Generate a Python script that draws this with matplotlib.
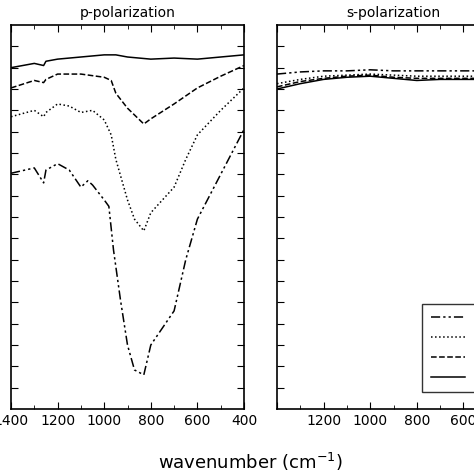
import matplotlib
matplotlib.use("Agg")
import matplotlib.pyplot as plt
import numpy as np

# p-polarization
p_solid_x = [1400, 1300, 1260, 1250, 1200, 1100, 1000, 950, 900, 800, 700, 600, 500, 400]
p_solid_y = [16.0, 16.2, 16.1, 16.3, 16.4, 16.5, 16.6, 16.6, 16.5, 16.4, 16.45, 16.4, 16.5, 16.6]
p_dash_x = [1400, 1300, 1260, 1250, 1200, 1100, 1000, 970, 950, 900, 830, 800, 700, 600, 500, 400]
p_dash_y = [15.05, 15.4, 15.3, 15.45, 15.7, 15.7, 15.55, 15.4, 14.8, 14.1, 13.36, 13.6, 14.3, 15.05, 15.6, 16.1]
p_dot_x = [1400, 1300, 1260, 1250, 1200, 1150, 1100, 1050, 1000, 970, 950, 900, 870, 830, 800, 700, 650, 600, 500, 400]
p_dot_y = [13.7, 14.0, 13.7, 13.9, 14.3, 14.2, 13.9, 14.0, 13.55, 12.85, 11.7, 9.8, 8.9, 8.35, 9.2, 10.4, 11.7, 12.85, 14.0, 15.05]
p_dd_x = [1400, 1300, 1260, 1250, 1200, 1150, 1100, 1070, 1050, 1000, 980, 960, 930, 900, 870, 830, 800, 700, 650, 600, 500, 400]
p_dd_y = [11.05, 11.3, 10.6, 11.2, 11.5, 11.2, 10.4, 10.7, 10.5, 9.8, 9.5, 7.45, 5.1, 3.0, 1.83, 1.6, 3.0, 4.6, 7.0, 8.9, 11.0, 13.1]

# s-polarization
s_x = [1400, 1300, 1200, 1100, 1000, 900, 800, 700, 600, 500, 400]
s_solid_y = [15.0, 15.25, 15.45, 15.55, 15.6, 15.5, 15.4, 15.45, 15.45, 15.45, 15.5]
s_dash_y = [15.1, 15.35, 15.5, 15.6, 15.65, 15.55, 15.5, 15.5, 15.5, 15.5, 15.5]
s_dot_y = [15.25, 15.45, 15.6, 15.65, 15.7, 15.65, 15.6, 15.6, 15.6, 15.6, 15.6]
s_dd_y = [15.7, 15.8, 15.85, 15.85, 15.9, 15.85, 15.85, 15.85, 15.85, 15.85, 15.85]

labels = ["θ=70°", "θ=60°", "θ=45°", "θ=30°"]

fig = plt.figure(figsize=(4.74, 4.74), dpi=100)
W = 474
ax1 = fig.add_axes([11/W, 65/W, 233/W, 384/W])
ax2 = fig.add_axes([277/W, 65/W, 233/W, 384/W])

ls_dd = (0, (6, 2, 1.5, 2, 1.5, 2))
for ax in (ax1, ax2):
    ax.set_xlim(1400, 400)
    ax.set_ylim(0, 18)
    ax.set_xticks([1400, 1200, 1000, 800, 600, 400])
    ax.set_xticks(np.arange(400, 1401, 100), minor=True)
    ax.set_yticks(np.arange(1, 18, 1))
    ax.set_yticklabels([])
    ax.tick_params(direction="in", which="both", top=True, right=True, labelsize=10, length=5)
    ax.tick_params(which="minor", length=3)
    for s in ax.spines.values():
        s.set_linewidth(1.2)

ax1.plot(p_dd_x, p_dd_y, color="black", ls=ls_dd, lw=1.1)
ax1.plot(p_dot_x, p_dot_y, color="black", ls=":", lw=1.1)
ax1.plot(p_dash_x, p_dash_y, color="black", ls="--", lw=1.1)
ax1.plot(p_solid_x, p_solid_y, color="black", ls="-", lw=1.1)
ax1.set_xticklabels(["1400", "1200", "1000", "800", "600", "400"])
ax1.set_title("p-polarization", fontsize=10, pad=6)

ax2.plot(s_x, s_dd_y, color="black", ls=ls_dd, lw=1.1, label=labels[0])
ax2.plot(s_x, s_dot_y, color="black", ls=":", lw=1.1, label=labels[1])
ax2.plot(s_x, s_dash_y, color="black", ls="--", lw=1.1, label=labels[2])
ax2.plot(s_x, s_solid_y, color="black", ls="-", lw=1.1, label=labels[3])
ax2.set_xticklabels(["", "1200", "1000", "800", "600", "400"])
ax2.set_title("s-polarization", fontsize=10, pad=6)
ax2.legend(loc="lower left", bbox_to_anchor=(0.6, 0.03), frameon=True, fancybox=False,
           edgecolor="black", fontsize=8, handlelength=3.0, labelspacing=0.9, borderpad=0.8)

fig.text(250/W, 1 - 462/W, "wavenumber (cm$^{-1}$)", ha="center", va="center", fontsize=13)
fig.savefig("out.png", dpi=100)
